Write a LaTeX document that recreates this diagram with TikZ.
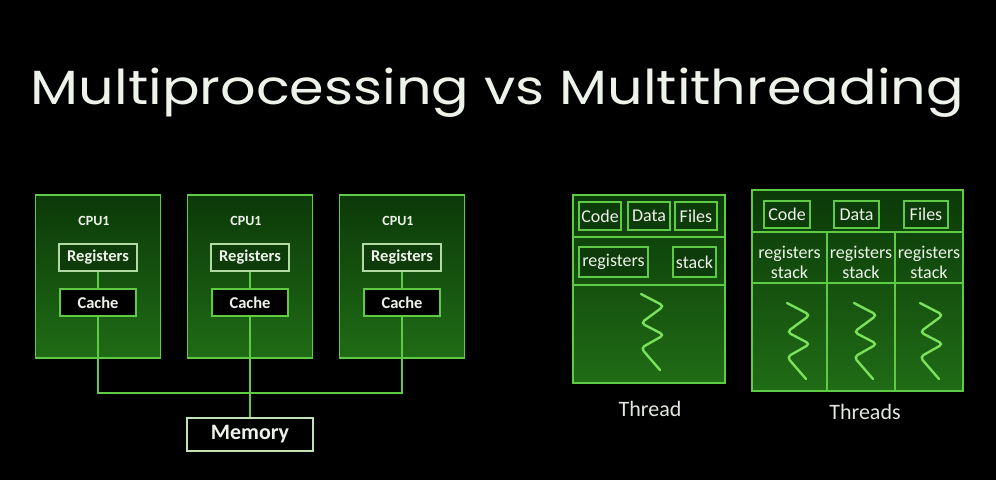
\documentclass[tikz,border=0pt]{standalone}
\usepackage{fontspec}
\setmainfont{Carlito}
\newfontfamily\titlefont[FakeStretch=1.16]{Poppins}
\definecolor{edge}{HTML}{5FCB45}
\definecolor{pale}{HTML}{B2DBA4}
\definecolor{boxtop}{HTML}{0B3908}
\definecolor{boxbot}{HTML}{206C16}
\definecolor{innerfill}{HTML}{0D3B0A}
\definecolor{zigcol}{HTML}{7BE05A}
\definecolor{txt}{HTML}{EEF3EA}
\tikzset{
  greenbox/.style={draw=edge, line width=1.3pt, top color=boxtop, bottom color=boxbot, inner sep=0pt},
  cpulabel/.style={text=txt, font=\bfseries\fontsize{14}{16}\selectfont},
  regbox/.style={draw=pale, line width=1.3pt, fill=innerfill, text=txt, minimum width=78, minimum height=27, inner sep=0pt, font=\bfseries\fontsize{16.5}{18}\selectfont},
  cachebox/.style={draw=edge, line width=1.3pt, fill=black, text=txt, minimum width=76, minimum height=27, inner sep=0pt, font=\bfseries\fontsize{16.5}{18}\selectfont},
  membox/.style={draw=pale!80!white, line width=1.4pt, fill=black, text=txt, minimum width=126, minimum height=33, inner sep=0pt, font=\bfseries\fontsize{22}{24}\selectfont},
  wire/.style={draw=edge, line width=1.4pt},
  smallbox/.style={draw=edge, line width=1.8pt, fill=innerfill, text=txt, minimum height=28, inner sep=0pt, font=\fontsize{18}{20}\selectfont},
  divider/.style={draw=edge, line width=1.3pt},
  coltext/.style={text=txt, align=center, font=\fontsize{18}{20}\selectfont, inner sep=0pt},
  biglabel/.style={text=txt!90!gray, font=\fontsize{22}{24}\selectfont},
  zig/.style={draw=zigcol, line width=2.4pt, rounded corners=4pt, line cap=round},
  zz/.pic={\draw[zig] (-11,0) -- ++(23,12) -- ++(-23,17) -- ++(23,12) -- ++(-23,13) -- ++(19,22);}
}
\begin{document}
\begin{tikzpicture}[x=1pt,y=-1pt]
\fill[black] (0,0) rectangle (996,480);
\useasboundingbox (0,0) rectangle (996,480);
% title
\node[anchor=base, text=txt, font=\titlefont\fontsize{48}{50}\selectfont, inner sep=0pt] (title) at (497.5,104) {Multiprocessing vs Multithreading};
% CPUs
\foreach \i/\cx in {1/98,2/250,3/402}{
  \node[greenbox, minimum width=125, minimum height=163] (cpu\i) at (\cx,276.5) {};
  \node[cpulabel] (lab\i) at (\cx-4,221) {CPU1};
  \node[regbox] (reg\i) at (\cx,257.5) {Registers};
  \node[cachebox] (cache\i) at (\cx,302.5) {Cache};
  \coordinate (bus\i) at (\cx,393);
  \draw[wire] (reg\i) -- (cache\i);
}
\node[membox] (mem) at (250,434.5) {Memory};
\draw[wire] (cache1) -- (bus1) -- (bus3) -- (cache3);
\draw[wire] (cache2) -- (mem);
% Thread
\node[greenbox, minimum width=152, minimum height=188] (thr) at (649,289) {};
\draw[divider] (573,237) -- (725,237);
\draw[divider] (573,285) -- (725,285);
\node[smallbox, minimum width=42] (code1) at (600,216) {Code};
\node[smallbox, minimum width=42] (data1) at (649,216) {Data};
\node[smallbox, minimum width=42] (files1) at (696,216) {Files};
\node[smallbox, minimum width=69, minimum height=30] (regs1) at (613.5,262) {registers};
\node[smallbox, minimum width=43, minimum height=30] (stack1) at (694.5,262) {stack};
\pic at (652,294) {zz};
\node[biglabel] (thrlab) at (650,409) {Thread};
% Threads
\node[greenbox, minimum width=211, minimum height=201] (thrs) at (857.5,290.5) {};
\draw[divider] (752,232) -- (963,232);
\draw[divider] (752,283) -- (963,283);
\draw[divider] (827,232) -- (827,391);
\draw[divider] (895,232) -- (895,391);
\node[smallbox, minimum width=46, minimum height=27] (code2) at (787,214.5) {Code};
\node[smallbox, minimum width=45, minimum height=27] (data2) at (856.5,214.5) {Data};
\node[smallbox, minimum width=44, minimum height=27] (files2) at (926,214.5) {Files};
\node[coltext] (rs1) at (789.5,262) {registers\\stack};
\node[coltext] (rs2) at (861,262) {registers\\stack};
\node[coltext] (rs3) at (929,262) {registers\\stack};
\pic at (798,303) {zz};
\pic at (865,303) {zz};
\pic at (931,303) {zz};
\node[biglabel] (thrslab) at (865,412) {Threads};
\end{tikzpicture}
\end{document}
